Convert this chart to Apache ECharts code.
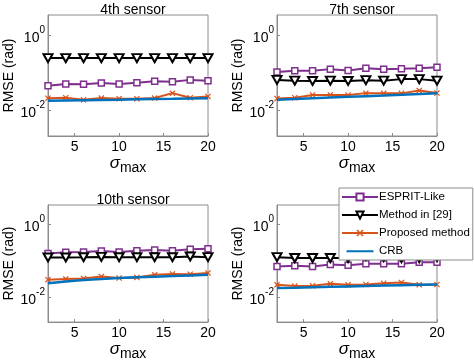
<!DOCTYPE html>
<html><head><meta charset="utf-8">
<script src="https://cdn.jsdelivr.net/npm/echarts@6/dist/echarts.min.js"></script>
<style>html,body{margin:0;padding:0;background:#fff}#c{width:474px;height:362px}</style>
</head><body><div id="c"></div>
<script>
// ---- data ----
const sigmaMax = [2, 4, 6, 8, 10, 12, 14, 16, 18, 20];
const xTicks = [5, 10, 15, 20];
const yTicks = [0.01, 1];
const panelTitles = ['4th sensor', '7th sensor', '10th sensor', ''];
const seriesNames = ['ESPRIT-Like', 'Method in [29]', 'Proposed method', 'CRB'];

const esprit4   = [0.044, 0.049, 0.048, 0.052, 0.049, 0.053, 0.058, 0.056, 0.063, 0.060];
const method4   = [0.24, 0.24, 0.24, 0.24, 0.24, 0.24, 0.24, 0.24, 0.24, 0.24];
const proposed4 = [0.0205, 0.021, 0.0185, 0.0206, 0.0199, 0.0199, 0.0206, 0.0279, 0.021, 0.0227];
const crb4      = [0.0174, 0.0178, 0.0181, 0.0184, 0.0187, 0.0191, 0.0194, 0.0197, 0.0201, 0.0205];

const esprit7   = [0.103, 0.110, 0.110, 0.122, 0.112, 0.129, 0.122, 0.124, 0.129, 0.137];
const method7   = [0.063, 0.060, 0.059, 0.060, 0.059, 0.062, 0.060, 0.066, 0.066, 0.060];
const proposed7 = [0.020, 0.021, 0.025, 0.025, 0.0247, 0.0279, 0.0275, 0.0275, 0.0327, 0.028];
const crb7      = [0.0185, 0.0195, 0.0204, 0.0213, 0.0222, 0.0232, 0.0242, 0.0252, 0.0264, 0.0279];

const esprit10   = [0.155, 0.169, 0.171, 0.182, 0.171, 0.187, 0.194, 0.187, 0.203, 0.211];
const method10   = [0.121, 0.121, 0.123, 0.126, 0.123, 0.123, 0.123, 0.123, 0.129, 0.124];
const proposed10 = [0.0296, 0.031, 0.0321, 0.0363, 0.033, 0.0341, 0.0403, 0.0427, 0.042, 0.0455];
const crb10      = [0.0236, 0.0264, 0.0288, 0.0309, 0.0327, 0.0343, 0.0358, 0.0372, 0.0388, 0.0403];

const esprit13   = [0.0685, 0.072, 0.0685, 0.0776, 0.074, 0.082, 0.082, 0.081, 0.0895, 0.0895];
const method13   = [0.124, 0.117, 0.117, 0.117, 0.117, 0.134, 0.124, 0.117, 0.117, 0.124];
const proposed13 = [0.0213, 0.0197, 0.020, 0.0227, 0.0213, 0.0218, 0.0236, 0.0247, 0.0213, 0.0218];
const crb13      = [0.0174, 0.0178, 0.0183, 0.0188, 0.0193, 0.0198, 0.0203, 0.0208, 0.0213, 0.0218];

const panels = [
  [esprit4, method4, proposed4, crb4],
  [esprit7, method7, proposed7, crb7],
  [esprit10, method10, proposed10, crb10],
  [esprit13, method13, proposed13, crb13]
];

// ---- layout / style ----
const FONT = '"Liberation Sans", Arial, sans-serif';
const boxColor = '#8c8c8c';
const grids = [
  {left: 48, top: 15}, {left: 277, top: 15},
  {left: 48, top: 205}, {left: 277, top: 205}
];
const colors = ['#7E2F8E', '#000000', '#D95319', '#0072BD'];
const crossPath = 'path://M0,1.4L1.4,0L5,3.6L8.6,0L10,1.4L6.4,5L10,8.6L8.6,10L5,6.4L1.4,10L0,8.6L3.6,5Z';
const triDown = 'path://M0,0L10,0L5,8.7Z';
const crbIcon = 'path://M0,0L0.01,0L0,0.01Z M0,5L36,5L36,7.6L0,7.6Z M0,12L0.01,12L0,12.01Z';
const styles = [
  {symbol: 'rect', symbolSize: 6, itemStyle: {color: '#fff', borderColor: colors[0], borderWidth: 1.5}},
  {symbol: triDown, symbolSize: [9, 8], itemStyle: {color: '#fff', borderColor: colors[1], borderWidth: 2}},
  {symbol: crossPath, symbolSize: 6, itemStyle: {color: colors[2], borderWidth: 0}},
  {symbol: 'none', itemStyle: {color: colors[3]}}
];

const option = {
  animation: false,
  textStyle: {fontFamily: FONT},
  title: [],
  grid: [],
  xAxis: [],
  yAxis: [],
  series: [],
  legend: {
    orient: 'vertical', left: 339, top: 188,
    itemWidth: 36, itemHeight: 9, itemGap: 6,
    backgroundColor: '#fff', borderColor: boxColor, borderWidth: 1,
    padding: [3, 3, 3, 2],
    textStyle: {fontFamily: FONT, fontSize: 11.5, color: '#000', padding: [0, 0, 0, -4]},
    data: [
      {name: seriesNames[0]},
      {name: seriesNames[1]},
      {name: seriesNames[2]},
      {name: seriesNames[3], icon: crbIcon, itemStyle: {color: colors[3]}}
    ],
    z: 10
  }
};

grids.forEach((g, i) => {
  option.grid.push({left: g.left, top: g.top, width: 160, height: 121, show: true,
    borderColor: boxColor, borderWidth: 1, backgroundColor: '#fff'});
  if (panelTitles[i]) {
    option.title.push({text: panelTitles[i], left: g.left + 80, top: g.top - 17, textAlign: 'center',
      textStyle: {fontFamily: FONT, fontSize: 14, fontWeight: 'normal', color: '#000'}});
  }
  option.xAxis.push({
    type: 'value', gridIndex: i, min: 2, max: 20,
    name: '{s|σ}{sub|max}', nameLocation: 'middle', nameGap: 16,
    nameTextStyle: {rich: {
      s: {fontFamily: FONT, fontSize: 17, fontStyle: 'italic', color: '#000', verticalAlign: 'top', lineHeight: 20},
      sub: {fontFamily: FONT, fontSize: 14, color: '#000', verticalAlign: 'bottom', lineHeight: 20}
    }},
    axisLine: {show: true, lineStyle: {color: boxColor}},
    axisTick: {show: true, inside: true, length: 3, lineStyle: {color: boxColor}, customValues: xTicks},
    axisLabel: {color: '#000', fontSize: 14, fontFamily: FONT, margin: 4, customValues: xTicks},
    splitLine: {show: false}
  });
  option.yAxis.push({
    type: 'log', logBase: 10, gridIndex: i, min: 0.002, max: 3.4,
    name: 'RMSE (rad)', nameLocation: 'middle', nameGap: 32,
    nameTextStyle: {fontFamily: FONT, fontSize: 14, color: '#000'},
    axisLine: {show: true, lineStyle: {color: boxColor}},
    axisTick: {show: true, inside: true, length: 3, lineStyle: {color: boxColor}, customValues: yTicks},
    axisLabel: {
      customValues: yTicks, margin: 3,
      formatter: v => '{b|10}{s|' + Math.round(Math.log10(v)) + '}',
      rich: {
        b: {fontFamily: FONT, fontSize: 14, color: '#000', verticalAlign: 'bottom', lineHeight: 20},
        s: {fontFamily: FONT, fontSize: 10, color: '#000', verticalAlign: 'top', lineHeight: 20}
      }
    },
    splitLine: {show: false},
    minorTick: {show: false}
  });
  panels[i].forEach((vals, k) => {
    option.series.push(Object.assign({
      name: seriesNames[k], type: 'line', xAxisIndex: i, yAxisIndex: i,
      data: sigmaMax.map((x, j) => [x, vals[j]]),
      showSymbol: k !== 3,
      lineStyle: {color: colors[k], width: k === 3 ? 2.5 : 2},
      z: 2 + k
    }, styles[k]));
  });
});

const chart = echarts.init(document.getElementById('c'), null, {renderer: 'canvas'});
chart.setOption(option);
</script>
</body></html>
